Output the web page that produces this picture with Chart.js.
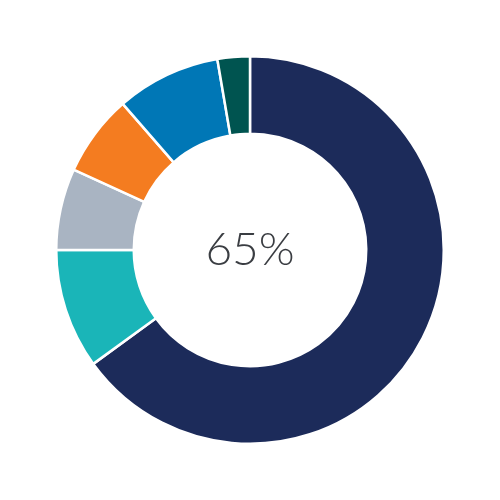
<!DOCTYPE html>
<html><head><meta charset="utf-8">
<script src="https://cdn.jsdelivr.net/npm/chart.js@4"></script>
<style>html,body{margin:0;padding:0;background:#fff}#w{position:relative;width:500px;height:500px}</style>
</head><body><div id="w"><canvas id="c" width="500" height="500"></canvas></div>
<script>
const categories = ["A","B","C","D","E","F"];
const values = [65, 10, 6.8, 6.8, 8.7, 2.7];
const colors = ["#1c2b5a","#1ab5b8","#a9b4c2","#f47c20","#0077b6","#005450"];
const centerLabel = "65%";
const centerText = {
  id:"centerText",
  afterDraw(chart){
    const {ctx, chartArea:a} = chart;
    ctx.save();
    ctx.font = "300 46px Lato";
    ctx.fillStyle = "#3a3d42";
    ctx.textAlign = "center"; ctx.textBaseline = "middle";
    ctx.fillText(centerLabel, (a.left+a.right)/2, (a.top+a.bottom)/2);
    ctx.restore();
  }
};
new Chart(document.getElementById("c"), {
  type:"doughnut",
  data:{labels:categories, datasets:[{data:values, backgroundColor:colors, borderColor:"#fff", borderWidth:2.5}]},
  options:{responsive:false, animation:false, cutout:"60%",
    layout:{padding:55},
    plugins:{legend:{display:false}, tooltip:{enabled:false}}},
  plugins:[centerText]
});
</script></body></html>
